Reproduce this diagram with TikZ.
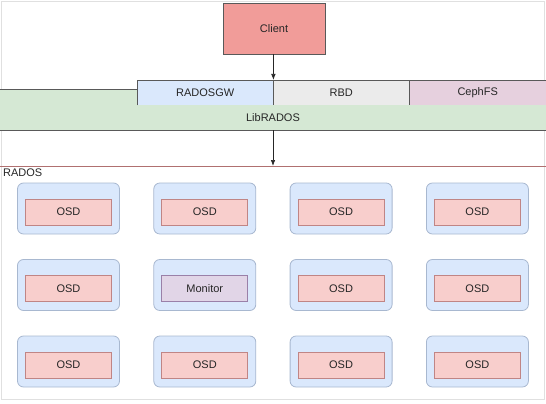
\documentclass[tikz,border=0pt]{standalone}
\usepackage{fontspec}
\setmainfont{Liberation Sans}
\usetikzlibrary{arrows.meta}

\definecolor{clientred}{HTML}{F19C99}
\definecolor{gwblue}{HTML}{DAE8FC}
\definecolor{rbdgray}{HTML}{EBEBEB}
\definecolor{fspink}{HTML}{E6D0DE}
\definecolor{libgreen}{HTML}{D5E8D4}
\definecolor{hostblue}{HTML}{DAE8FC}
\definecolor{hostline}{HTML}{A8B8D0}
\definecolor{osdred}{HTML}{F8CECC}
\definecolor{osdline}{HTML}{C08585}
\definecolor{monpurple}{HTML}{E1D5E7}
\definecolor{monline}{HTML}{9A80A8}
\definecolor{radosred}{HTML}{B07070}

\begin{document}
\begin{tikzpicture}[x=1pt,y=-1pt,
  every node/.style={font=\fontsize{11}{13}\selectfont, text=black!85},
  layerline/.style={draw=black!65, line width=0.8pt},
  layerbox/.style={inner sep=0pt, minimum height=25pt, anchor=north west},
  hostbox/.style={draw=hostline, fill=hostblue, rounded corners=6pt,
    minimum width=102pt, minimum height=51pt, line width=0.8pt},
  osdbox/.style={draw=osdline, fill=osdred, minimum width=86pt,
    minimum height=26pt, inner sep=0pt, line width=0.8pt},
  monbox/.style={osdbox, draw=monline, fill=monpurple},
  arr/.style={-{Latex[length=6pt,width=4.5pt]}, line width=0.7pt, black!85}]

\useasboundingbox (0,0) rectangle (546,404);
\draw[black!12] (1,1) rectangle (544,399);

% client on top
\node[draw=black!65, fill=clientred, minimum width=102pt, minimum height=51pt,
  line width=0.8pt] (client) at (274,28.5) {Client};

% LibRADOS band with the three interfaces on it
\fill[libgreen] (0,89) rectangle (546,130);
\node[inner sep=0pt, minimum width=546pt, minimum height=25pt, anchor=south]
  (librados) at (273,130) {LibRADOS};
\node[layerbox, fill=gwblue, minimum width=136pt] (gw) at (137,80) {RADOSGW};
\node[layerbox, fill=rbdgray, minimum width=136pt] (rbd) at (273,80) {RBD};
\node[layerbox, fill=fspink, minimum width=137pt] (cephfs) at (409,80) {CephFS};

\draw[layerline] (0,89) -- (gw.west |- 0,89);
\draw[layerline] (gw.south west) -- (gw.north west) -- (cephfs.north east);
\draw[layerline] (rbd.north west) -- (rbd.south west);
\draw[layerline] (cephfs.north west) -- (cephfs.south west);
\draw[layerline] (librados.south west) -- (librados.south east);

\draw[arr] (client.south -| gw.north east) -- (gw.north east);

% RADOS cluster
\coordinate (radosln) at (0,166);
\draw[radosred, line width=0.8pt] (radosln) -- (546,166);
\node[anchor=west, inner sep=0pt] (rados) at (3,173) {RADOS};
\draw[arr] (librados.south) -- (librados.south |- radosln);

\foreach \row in {0,1,2}{
  \foreach \col in {0,...,3}{
    \pgfmathsetmacro{\xx}{68.5+136.3*\col}
    \pgfmathsetmacro{\yy}{208.5+76.5*\row}
    \node[hostbox] (host-\row-\col) at (\xx,\yy) {};
    \ifnum\row\col=11
      \node[monbox] (osd-\row-\col) at ([yshift=-3.5pt]host-\row-\col) {Monitor};
    \else
      \node[osdbox] (osd-\row-\col) at ([yshift=-3.5pt]host-\row-\col) {OSD};
    \fi
  }
}

\end{tikzpicture}
\end{document}
